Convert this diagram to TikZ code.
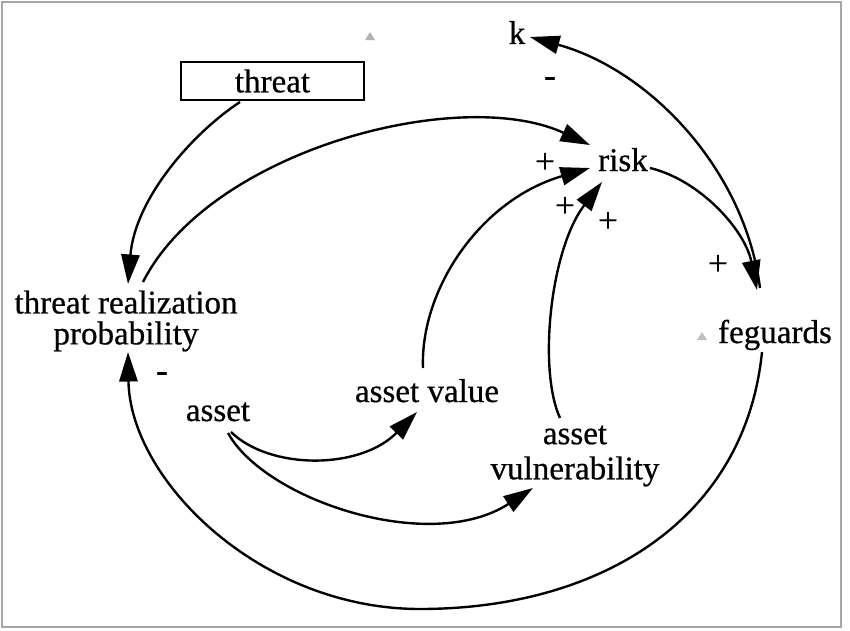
\documentclass[tikz,border=0pt]{standalone}
\usepackage{fontspec}
\setmainfont{Liberation Serif}[FakeBold=0.6]
\usetikzlibrary{arrows.meta,calc}
\begin{document}
\begin{tikzpicture}[x=0.025cm,y=-0.025cm,
  lbl/.style={inner sep=0pt,font=\fontsize{23.5}{22}\selectfont},
  sgn/.style={inner sep=0pt,font=\fontsize{25}{22}\selectfont},
  conn/.style={line width=1.7pt,-{Triangle[length=21pt,width=13pt]}},
  boxed/.style={draw,line width=1.4pt,minimum width=183*0.025cm,minimum height=38*0.025cm,inner sep=0pt,font=\fontsize{23.5}{22}\selectfont}]
\useasboundingbox (0,0) rectangle (850,631);
\draw[black!35,line width=0.8pt] (2,2) rectangle (841,627);

% nodes
\node[boxed] (thr) at (272.5,81) {threat};
\node[lbl,align=center,font=\fontsize{23.5}{22}\selectfont] (trp) at (126,321) {threat realization\\probability};
\node[lbl,anchor=base] (risk) at (623,171) {risk};
\node[lbl,anchor=base] (res) at (517,44) {k};
\node[lbl,anchor=base] (safe) at (775,343) {feguards};
\node[lbl,anchor=base] (av) at (427,402) {asset value};
\node[lbl,anchor=base] (asset) at (218,421) {asset};
\node[lbl,align=center,font=\fontsize{23.5}{25}\selectfont] (avul) at (575,456) {asset\\vulnerability};

% faint markers
\fill[black!30] (365,40) -- (375,40) -- (370,32) -- cycle;
\fill[black!25] (697,340) -- (707,340) -- (702,332) -- cycle;

% signs
\node[sgn] (s1) at (550,82) {-};
\node[sgn] (s2) at (545,163) {+};
\node[sgn] (s3) at (565,207) {+};
\node[sgn] (s4) at (608,222) {+};
\node[sgn] (s5) at (718,265) {+};
\node[sgn] (s6) at (162,377) {-};

% connectors
\draw[conn] ($(thr.south)+(-32.5,1)$) .. controls (190,135) and (135,200) .. ($(trp)+(2,-37)$);
\draw[conn] ($(trp)+(17,-39)$) .. controls (210,150) and (460,85) .. ($(risk.base)+(-33,-26)$);
\draw[conn] ($(av.base)+(-4,-34)$) .. controls (420,290) and (480,200) .. ($(risk.base)+(-33,-3)$);
\draw[conn] ($(avul)+(-15,-38)$) .. controls (538,370) and (550,250) .. ($(risk.base)+(-21,11)$);
\draw[conn] ($(risk.base)+(27,-3)$) .. controls (700,180) and (745,230) .. ($(safe.base)+(-18,-53)$);
\draw[conn] ($(safe.base)+(-15,-55)$) .. controls (745,170) and (650,70) .. ($(res.base)+(13,-7)$);
\coordinate (bot) at (420,609);
\draw[conn] ($(safe.base)+(-13,9)$) .. controls (745,520) and (600,609) .. (bot)
  .. controls (260,609) and (130,480) .. ($(trp)+(2,31)$);
\draw[conn] ($(asset.base)+(13,11)$) .. controls (270,470) and (360,470) .. ($(av.base)+(-10,10)$);
\draw[conn] ($(asset.base)+(10,12)$) .. controls (265,500) and (430,555) .. ($(avul)+(-42,32)$);
\end{tikzpicture}
\end{document}
